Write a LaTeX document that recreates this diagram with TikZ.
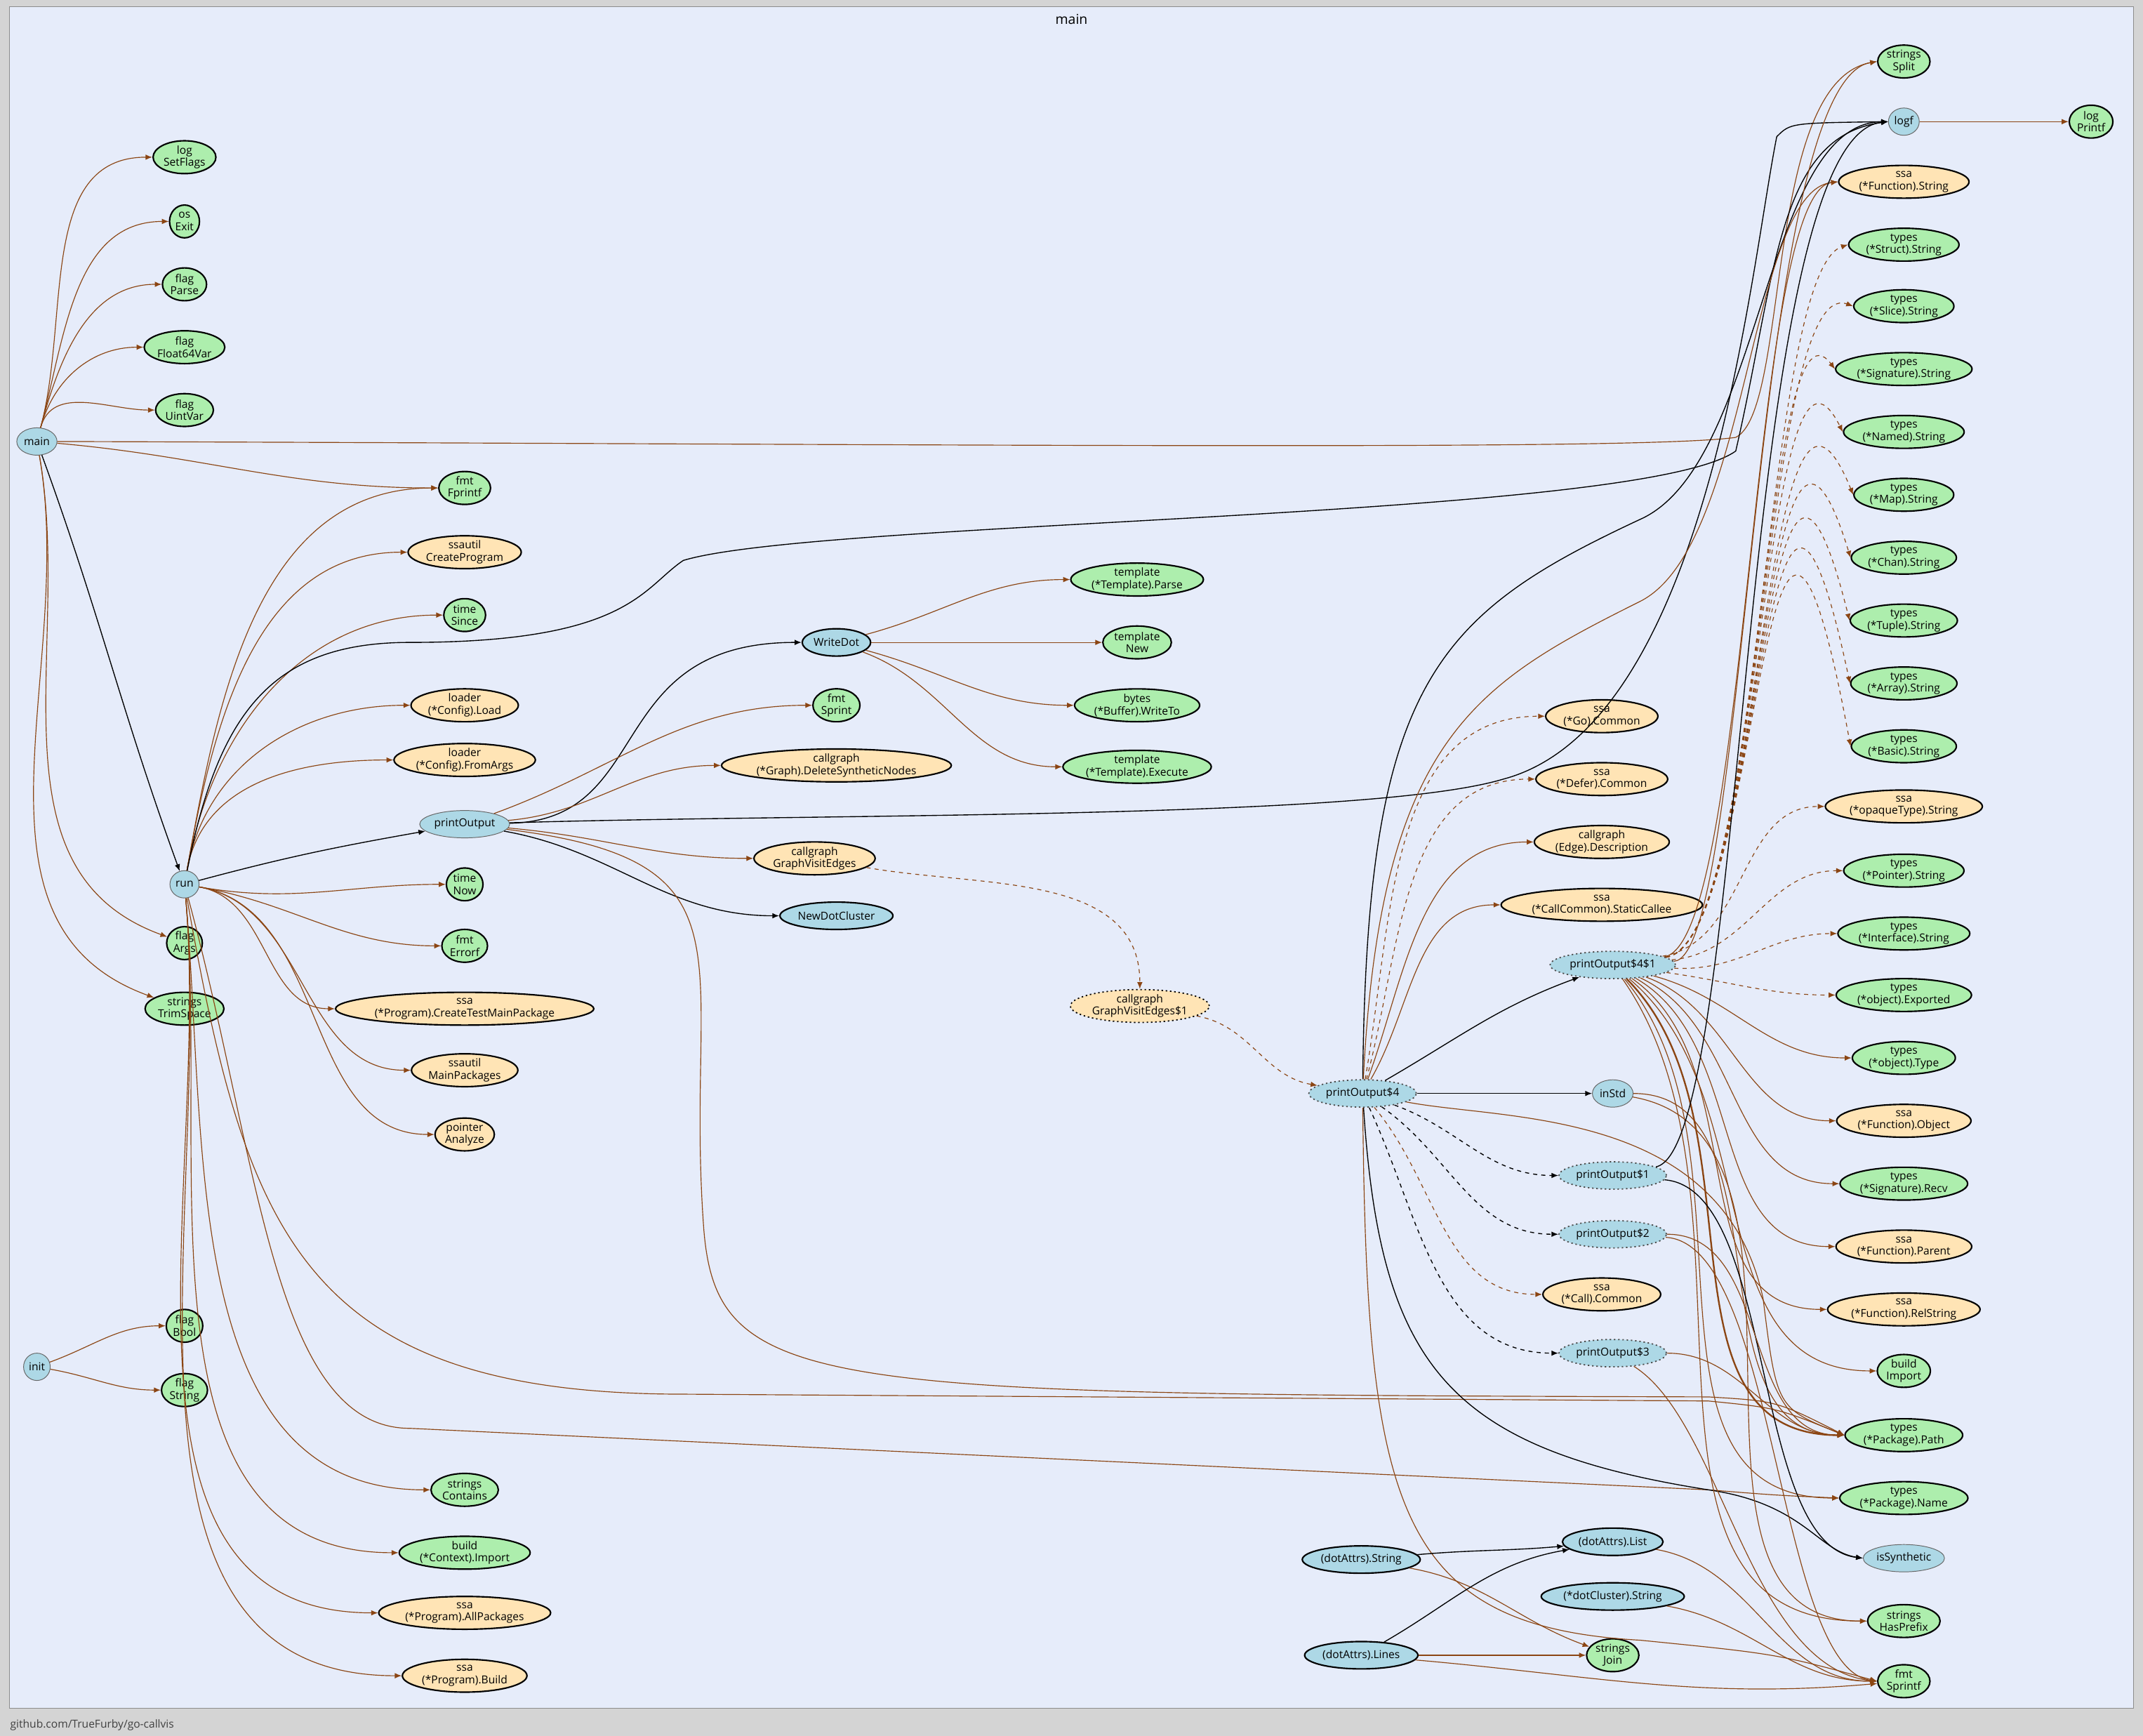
\documentclass[tikz,border=0pt]{standalone}
\usepackage{fontspec}
\setmainfont{Open Sans}
\usetikzlibrary{shapes.geometric,arrows.meta}
\definecolor{bg}{HTML}{E6ECFA}
\definecolor{gr}{HTML}{ADEEAD}
\definecolor{bl}{HTML}{ADD8E6}
\definecolor{or}{HTML}{FFE4B5}
\definecolor{br}{HTML}{8B4513}
\begin{document}
\begin{tikzpicture}[x=1pt,y=-1pt,
 n/.style={ellipse,draw,line width=1.1pt,inner xsep=1pt,inner ysep=0pt,minimum height=24pt,align=center,font=\fontsize{8}{9}\selectfont},
 g/.style={n,fill=gr},
 o/.style={n,fill=or},
 b/.style={n,fill=bl,draw=gray!80!black,line width=0.5pt,minimum height=20pt},
 bk/.style={n,fill=bl},
 cl/.style={n,fill=bl,dotted,draw=black!70,line width=0.9pt,minimum height=20pt},
 clo/.style={n,fill=or,dotted,line width=0.9pt},
 eb/.style={-{Latex[length=5pt,width=4pt]},br,line width=0.6pt},
 ek/.style={-{Latex[length=5pt,width=4pt]},black,line width=0.7pt},
 ebd/.style={eb,dashed},
 ekd/.style={ek,dashed}]
\useasboundingbox (0,0) rectangle (1568,1270);
\fill[black!17] (0,0) rectangle (1568,1270);
\draw[fill=bg,draw=black!45] (7,5) rectangle (1561,1250);
\node[font=\fontsize{10}{11}\selectfont] (title) at (784,14) {main};
\node[anchor=west,font=\fontsize{8}{9}\selectfont,text=black!75] (foot) at (4,1262) {github.com/TrueFurby/go-callvis};
% left
\node[b] (main) at (27,323) {main};
\node[b] (init) at (27,1000) {init};
\node[b] (run) at (135,647) {run};
\node[g] (setflags) at (135,115) {log\\SetFlags};
\node[g] (exit) at (135,162) {os\\Exit};
\node[g] (fparse) at (135,208) {flag\\Parse};
\node[g] (f64) at (135,254) {flag\\Float64Var};
\node[g] (uint) at (135,300) {flag\\UintVar};
\node[g] (args) at (135,690) {flag\\Args};
\node[g] (trim) at (135,738) {strings\\TrimSpace};
\node[g] (fbool) at (135,970) {flag\\Bool};
\node[g] (fstr) at (135,1017) {flag\\String};
% column 2
\node[g] (fprintf) at (340,357) {fmt\\Fprintf};
\node[o] (cprog) at (340,404) {ssautil\\CreateProgram};
\node[g] (since) at (340,450) {time\\Since};
\node[o] (load) at (340,516) {loader\\(*Config).Load};
\node[o] (fromargs) at (340,556) {loader\\(*Config).FromArgs};
\node[b] (po) at (340,603) {printOutput};
\node[g] (now) at (340,647) {time\\Now};
\node[g] (errorf) at (340,692) {fmt\\Errorf};
\node[o] (ctmp) at (340,738) {ssa\\(*Program).CreateTestMainPackage};
\node[o] (mainpk) at (340,783) {ssautil\\MainPackages};
\node[o] (analyze) at (340,830) {pointer\\Analyze};
\node[g] (contains) at (340,1090) {strings\\Contains};
\node[g] (cimport) at (340,1136) {build\\(*Context).Import};
\node[o] (allpk) at (340,1180) {ssa\\(*Program).AllPackages};
\node[o] (build) at (340,1226) {ssa\\(*Program).Build};
% column 3
\node[bk,minimum height=20pt] (wd) at (612,470) {WriteDot};
\node[g] (sprint) at (612,516) {fmt\\Sprint};
\node[o] (dsn) at (612,560) {callgraph\\(*Graph).DeleteSyntheticNodes};
\node[o] (gve) at (596,628) {callgraph\\GraphVisitEdges};
\node[bk,minimum height=20pt] (ndc) at (612,670) {NewDotCluster};
\node[g] (tparse) at (832,424) {template\\(*Template).Parse};
\node[g] (tnew) at (832,470) {template\\New};
\node[g] (wto) at (832,516) {bytes\\(*Buffer).WriteTo};
\node[g] (texec) at (832,561) {template\\(*Template).Execute};
\node[clo] (gve1) at (834,736) {callgraph\\GraphVisitEdges\$1};
% column 4
\node[o] (gocom) at (1172,524) {ssa\\(*Go).Common};
\node[o] (defcom) at (1172,570) {ssa\\(*Defer).Common};
\node[o] (edesc) at (1172,616) {callgraph\\(Edge).Description};
\node[o] (stc) at (1172,662) {ssa\\(*CallCommon).StaticCallee};
\node[cl] (po41) at (1180,706) {printOutput\$4\$1};
\node[cl] (po4) at (997,800) {printOutput\$4};
\node[b] (instd) at (1180,800) {inStd};
\node[cl] (po1) at (1180,860) {printOutput\$1};
\node[cl] (po2) at (1180,903) {printOutput\$2};
\node[o] (callcom) at (1172,947) {ssa\\(*Call).Common};
\node[cl] (po3) at (1180,990) {printOutput\$3};
\node[bk,minimum height=20pt] (dastr) at (996,1141) {(dotAttrs).String};
\node[bk,minimum height=20pt] (dalist) at (1180,1128) {(dotAttrs).List};
\node[bk,minimum height=20pt] (dcstr) at (1180,1168) {(*dotCluster).String};
\node[bk,minimum height=20pt] (dalines) at (996,1211) {(dotAttrs).Lines};
\node[g] (join) at (1180,1211) {strings\\Join};
% right column
\node[g] (split) at (1393,45) {strings\\Split};
\node[b] (logf) at (1393,89) {logf};
\node[g] (printf) at (1530,89) {log\\Printf};
\node[o] (fstring) at (1393,133) {ssa\\(*Function).String};
\node[g] (t1) at (1393,179) {types\\(*Struct).String};
\node[g] (t2) at (1393,224) {types\\(*Slice).String};
\node[g] (t3) at (1393,270) {types\\(*Signature).String};
\node[g] (t4) at (1393,316) {types\\(*Named).String};
\node[g] (t5) at (1393,362) {types\\(*Map).String};
\node[g] (t6) at (1393,408) {types\\(*Chan).String};
\node[g] (t7) at (1393,454) {types\\(*Tuple).String};
\node[g] (t8) at (1393,500) {types\\(*Array).String};
\node[g] (t9) at (1393,546) {types\\(*Basic).String};
\node[o] (opq) at (1393,590) {ssa\\(*opaqueType).String};
\node[g] (t10) at (1393,637) {types\\(*Pointer).String};
\node[g] (t11) at (1393,683) {types\\(*Interface).String};
\node[g] (oexp) at (1393,728) {types\\(*object).Exported};
\node[g] (otype) at (1393,774) {types\\(*object).Type};
\node[o] (fobj) at (1393,820) {ssa\\(*Function).Object};
\node[g] (srecv) at (1393,866) {types\\(*Signature).Recv};
\node[o] (fpar) at (1393,912) {ssa\\(*Function).Parent};
\node[o] (frel) at (1393,958) {ssa\\(*Function).RelString};
\node[g] (bimp) at (1393,1003) {build\\Import};
\node[g] (ppath) at (1393,1050) {types\\(*Package).Path};
\node[g] (pname) at (1393,1096) {types\\(*Package).Name};
\node[b] (issyn) at (1393,1140) {isSynthetic};
\node[g] (hasp) at (1393,1186) {strings\\HasPrefix};
\node[g] (sprintf) at (1393,1230) {fmt\\Sprintf};
% edges main
\foreach \t in {setflags,exit,fparse,f64,uint}{\draw[eb] (main) to[out=75,in=180] (\t);}
\foreach \t in {args,trim}{\draw[eb] (main) to[out=-80,in=160] (\t);}
\draw[eb] (main) to[out=-5,in=180] (fprintf);
\draw[ek] (main) to[out=-70,in=110] (run);
\draw[eb] (main.east) .. controls (700,325) and (1200,330) .. (1270,320) .. controls (1310,300) and (1290,60) .. (split.west);
\draw[eb] (init) to[out=20,in=180] (fbool);
\draw[eb] (init) to[out=-10,in=180] (fstr);
% edges run
\foreach \t in {fprintf,cprog,since,load,fromargs}{\draw[eb] (run) to[out=80,in=180] (\t);}
\draw[ek] (run) to[out=15,in=190] (po);
\foreach \t in {now,errorf,ctmp,mainpk,analyze}{\draw[eb] (run) to[out=-10,in=180] (\t);}
\foreach \t in {contains,cimport,allpk,build}{\draw[eb] (run) to[out=-85,in=180] (\t);}
\draw[ek] (run) .. controls (160,520) and (200,470) .. (300,470) .. controls (460,470) and (470,430) .. (500,410) .. controls (600,380) and (1200,380) .. (1270,330) .. controls (1300,200) and (1300,100) .. (logf.west);
\draw[eb] (run) .. controls (180,900) and (220,1020) .. (500,1020) -- (1250,1025) .. controls (1300,1030) .. (ppath.west);
\draw[eb] (run) .. controls (190,850) and (200,1045) .. (300,1045) -- (1250,1090) .. controls (1300,1094) .. (pname.west);
% printOutput
\draw[ek] (po) .. controls (480,600) and (440,470) .. (wd.west);
\draw[eb] (po) to[out=20,in=180] (sprint);
\draw[eb] (po) to[out=5,in=180] (dsn);
\draw[eb] (po) to[out=-5,in=180] (gve);
\draw[ek] (po) to[out=-10,in=180] (ndc);
\draw[ek] (po) .. controls (600,595) and (1000,600) .. (1100,570) .. controls (1250,530) and (1280,200) .. (1300,100) .. controls (1310,90) .. (logf.west);
\draw[eb] (po) .. controls (560,630) and (500,700) .. (515,900) .. controls (525,1020) and (600,1020) .. (1250,1022) .. controls (1300,1025) .. (ppath.west);
% WriteDot
\draw[eb] (wd) to[out=15,in=180] (tparse);
\draw[eb] (wd) -- (tnew);
\draw[eb] (wd) to[out=-15,in=180] (wto);
\draw[eb] (wd) to[out=-20,in=180] (texec);
\draw[ebd] (gve) to[out=-10,in=90] (gve1);
\draw[ebd] (gve1) to[out=-10,in=170] (po4);
% printOutput$4
\draw[ek] (po4) .. controls (1000,500) and (1050,450) .. (1200,380) .. controls (1290,340) and (1290,90) .. (logf.west);
\draw[eb] (po4) .. controls (1010,540) and (1080,500) .. (1200,440) .. controls (1280,400) and (1280,140) .. (fstring.west);
\draw[ebd] (po4) to[out=80,in=180] (gocom);
\draw[ebd] (po4) to[out=75,in=180] (defcom);
\draw[eb] (po4) to[out=70,in=180] (edesc);
\draw[eb] (po4) to[out=60,in=180] (stc);
\draw[ek] (po4) to[out=30,in=200] (po41);
\draw[ek] (po4) -- (instd);
\draw[ekd] (po4) to[out=-20,in=180] (po1);
\draw[ekd] (po4) to[out=-35,in=180] (po2);
\draw[ebd] (po4) to[out=-50,in=180] (callcom);
\draw[ekd] (po4) to[out=-65,in=180] (po3);
\draw[eb] (po4) .. controls (1100,820) and (1260,810) .. (1290,950) .. controls (1300,1030) .. (ppath.west);
\draw[ek] (po4) .. controls (1010,1000) and (1060,1060) .. (1250,1090) .. controls (1320,1100) and (1330,1135) .. (issyn.west);
\draw[eb] (po4) .. controls (1000,1100) and (1020,1190) .. (1200,1200) .. controls (1300,1210) .. (sprintf.west);
% printOutput$4$1
\draw[eb] (po41) .. controls (1280,700) and (1280,60) .. (split.west);
\draw[eb] (po41) .. controls (1280,690) and (1280,140) .. (fstring.west);
\foreach \t in {t1,t2,t3,t4,t5,t6,t7,t8,t9}{\draw[ebd] (po41) .. controls (1290,690) and (1290,200) .. (\t.west);}
\draw[ebd] (po41) to[out=10,in=180] (opq);
\draw[ebd] (po41) to[out=5,in=180] (t10);
\draw[ebd] (po41) to[out=-3,in=180] (t11);
\draw[ebd] (po41) to[out=-8,in=180] (oexp);
\draw[eb] (po41) to[out=-15,in=180] (otype);
\draw[eb] (po41) to[out=-20,in=180] (fobj);
\draw[eb] (po41) to[out=-25,in=180] (srecv);
\draw[eb] (po41) to[out=-30,in=180] (fpar);
\draw[eb] (po41) to[out=-35,in=180] (frel);
\draw[eb] (po41) to[out=-40,in=180] (bimp);
\draw[eb,line width=1.2pt] (po41) to[out=-45,in=180] (ppath);
\draw[eb] (po41) to[out=-50,in=180] (pname);
\draw[eb] (po41) to[out=-55,in=180] (hasp);
% others
\draw[eb] (instd) to[out=0,in=180] (ppath);
\draw[eb] (instd) to[out=-10,in=180] (hasp);
\draw[ek] (po1) .. controls (1280,840) and (1270,100) .. (logf.west);
\draw[ek] (po1) .. controls (1300,870) and (1280,1130) .. (issyn.west);
\draw[eb] (po2) to[out=0,in=180] (ppath);
\draw[eb] (po2) .. controls (1300,910) and (1300,1220) .. (sprintf.west);
\draw[eb] (po3) to[out=0,in=180] (ppath);
\draw[eb] (po3) .. controls (1260,1040) and (1280,1220) .. (sprintf.west);
\draw[eb] (logf) -- (printf);
\draw[ek] (dastr) to[out=5,in=185] (dalist);
\draw[eb] (dastr) to[out=-10,in=160] (join);
\draw[ek] (dalines) to[out=30,in=190] (dalist);
\draw[eb] (dalines) -- (join);
\draw[eb] (dalines) to[out=-5,in=185] (sprintf);
\draw[eb] (dalist) to[out=-10,in=180] (sprintf);
\draw[eb] (dcstr) to[out=-10,in=180] (sprintf);
\end{tikzpicture}
\end{document}
